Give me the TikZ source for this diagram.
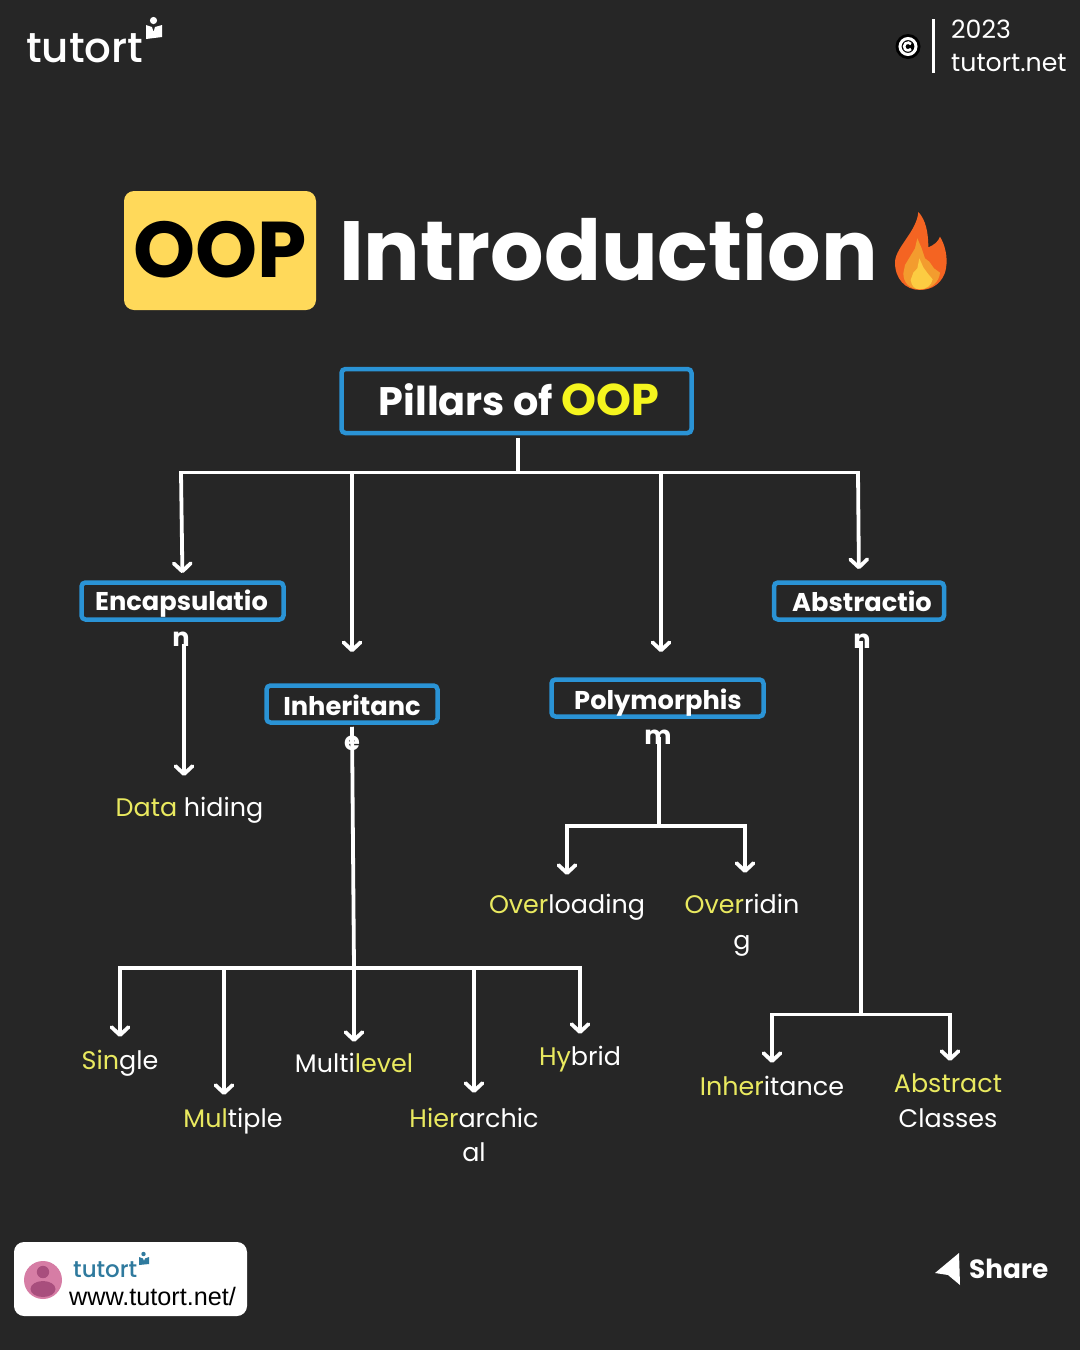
\documentclass[tikz,border=0pt]{standalone}
\usepackage{fontspec}
\setmainfont{Poppins}
\newfontfamily\arialf{Liberation Sans}
\newfontfamily\pmed{Poppins Medium}
\usetikzlibrary{arrows.meta}
\definecolor{bgc}{HTML}{262626}
\definecolor{boxb}{HTML}{2A93D5}
\definecolor{yel}{HTML}{E9E95F}
\definecolor{yelb}{HTML}{F5F51E}
\definecolor{titley}{HTML}{FFD95A}
\definecolor{logob}{HTML}{2F7A9E}
\newcommand{\yy}[1]{\textcolor{yel}{#1}}
\tikzset{
  conn/.style={draw=white,line width=3.8pt},
  arr/.style={conn,-{Straight Barb[round,length=8pt,width=17pt,line width=3.8pt]}},
  pillar/.style={draw=boxb,line width=4.5pt,rounded corners=4pt,text=white,inner sep=0pt,anchor=center},
  ptext/.style={text=white,font=\fontsize{25.7}{32}\selectfont\bfseries,inner sep=0pt,anchor=base},
  leaf/.style={text=white,font=\fontsize{25.4}{34.5}\selectfont,inner sep=0pt,align=center},
}
\begin{document}
\begin{tikzpicture}[x=1pt,y=-1pt]
\fill[bgc] (0,0) rectangle (1080,1350);
\useasboundingbox (0,0) rectangle (1080,1350);
% header
\node[text=white,font=\pmed\fontsize{42}{50}\selectfont,inner sep=0pt,anchor=base west] (logo) at (26,62) {tutort};
\fill[white] (153.5,20.5) circle (3.6);
\fill[white] (146,25) -- (152,27) -- (153.5,32) -- (155,27) -- (162,25) -- (162,37) -- (146,39) -- cycle;
\fill[black] (908,46.5) circle (12.5);
\draw[white,line width=3pt] (908,46.5) circle (8);
\draw[white,line width=2.6pt] (911,44) arc (-40:-320:3.9);
\draw[white,line width=3pt] (933.5,19) -- (933.5,73);
\node[text=white,font=\fontsize{25.2}{30}\selectfont,inner sep=0pt,anchor=base west] (yr) at (951,38) {2023};
\node[text=white,font=\fontsize{25.2}{30}\selectfont,inner sep=0pt,anchor=base west] (site) at (951,71) {tutort.net};
% title
\fill[titley,rounded corners=10pt] (124,191) rectangle (316,310);
\node[text=black,font=\fontsize{79}{90}\selectfont\bfseries,inner sep=0pt,anchor=base] (oop) at (220,277) {OOP};
\node[text=white,font=\fontsize{84}{90}\selectfont\bfseries,inner sep=0pt,anchor=base west] (intro) at (339,280) {Introduction};
\begin{scope}[shift={(860,190)},x=.3333pt,y=-.3333pt]
\fill[color={rgb,255:red,244;green,100;blue,34}] (175,66) .. controls (198,90) and (205,130) .. (205,172) .. controls (222,165) and (235,155) .. (240,140) .. controls (255,165) and (264,200) .. (258,235) .. controls (250,280) and (215,300) .. (180,300) .. controls (135,300) and (104,265) .. (105,215) .. controls (108,170) and (170,125) .. (175,66) -- cycle;
\fill[color={rgb,255:red,243;green,156;blue,46}] (172,145) -- (185,175) -- (195,205) -- (208,215) -- (222,235) -- (240,248) .. controls (238,275) and (215,298) .. (180,298) .. controls (150,298) and (130,280) .. (130,250) -- (135,225) -- (150,200) -- (165,175) -- cycle;
\fill[color={rgb,255:red,252;green,204;blue,66}] (178,205) -- (190,232) -- (203,250) -- (218,268) .. controls (215,285) and (200,298) .. (180,298) .. controls (165,298) and (155,290) .. (152,270) -- (160,248) -- (172,235) -- cycle;
\end{scope}
% root
\node[pillar,minimum width=350pt,minimum height=64pt] (pillars) at (516.5,401) {};
\node[text=white,inner sep=0pt,anchor=base] (pillarst) at (519,415) {\fontsize{39.8}{50}\selectfont\bfseries Pillars of \fontsize{44.5}{50}\selectfont\textcolor{yelb}{OOP}};
% pillars
\node[pillar,minimum width=202pt,minimum height=37pt] (enc) at (182.5,601) {};
\node[ptext] (enct) at (181.5,610) {Encapsulatio};
\node[ptext] (encw) at (181,646) {n};
\node[pillar,minimum width=171pt,minimum height=37pt] (inh) at (352,704) {};
\node[ptext] (inht) at (352,715) {Inheritanc};
\node[ptext] (inhw) at (352,750) {e};
\node[pillar,minimum width=212pt,minimum height=37pt] (poly) at (657.5,698) {};
\node[ptext] (polyt) at (658,709) {Polymorphis};
\node[ptext] (polyw) at (658,744) {m};
\node[pillar,minimum width=170pt,minimum height=37pt] (abs) at (859,601) {};
\node[ptext] (abst) at (862,611) {Abstractio};
\node[ptext] (absw) at (862,648) {n};
% leaves
\node[leaf] (dh) at (189.5,810) {\yy{Data} hiding};
\node[leaf] (sg) at (120,1063) {\yy{Sin}gle};
\node[leaf] (mu) at (233,1121) {\yy{Mul}tiple};
\node[leaf] (ml) at (354,1063) {Multi\yy{level}};
\node[leaf] (hi) at (474,1135) {\yy{Hier}archic\\al};
\node[leaf] (hy) at (580,1059) {\yy{Hy}brid};
\node[leaf] (ol) at (567,907) {\yy{Over}loading};
\node[leaf] (or) at (742,925) {\yy{Over}ridin\\[1.5pt]g};
\node[leaf] (ih) at (772,1086) {\yy{Inher}itance};
\node[leaf] (ac) at (948,1100.5) {\yy{Abstract}\\[.5pt]Classes};
% junctions
\coordinate (r0) at (518,472.5);
\coordinate (r1) at (181,472.5);
\coordinate (r2) at (352,472.5);
\coordinate (r3) at (661,472.5);
\coordinate (r4) at (858,472.5);
\coordinate (i0) at (354,968);
\coordinate (i1) at (120,968);
\coordinate (i2) at (224,968);
\coordinate (i4) at (474,968);
\coordinate (i5) at (580,968);
\coordinate (p0) at (659,826);
\coordinate (p1) at (567,826);
\coordinate (p2) at (745,826);
\coordinate (a0) at (861,1014.5);
\coordinate (a1) at (772,1014.5);
\coordinate (a2) at (950,1014.5);
\coordinate (e0) at (184,644);
\coordinate (e1) at (184,776);
% connectors
\draw[conn,shorten <=3pt] (pillars.south -| r0) -- (r0);
\draw[conn,line cap=rect] (r1) -- (r4);
\draw[arr,shorten >=7pt] (r1) -- (enc.north);
\draw[arr] (r2) -- ([yshift=31pt]inh.north);
\draw[arr] (r3) -- ([yshift=25pt]r3 |- poly.north);
\draw[arr,shorten >=11pt] (r4) -- (abs.north);
\draw[arr] (e0) -- (e1);
\draw[conn,shorten <=2pt] (inh.south) -- (i0);
\draw[conn,line cap=rect] (i1) -- (i5);
\draw[arr] (i1) -- (i1 |- 0,1037);
\draw[arr] (i2) -- (i2 |- 0,1095);
\draw[arr] (i0) -- (i0 |- 0,1042);
\draw[arr] (i4) -- (i4 |- 0,1093);
\draw[arr] (i5) -- (i5 |- 0,1034);
\draw[conn] (p0 |- polyw.center) -- (p0);
\draw[conn,line cap=rect] (p1) -- (p2);
\draw[arr] (p1) -- (p1 |- 0,875);
\draw[arr] (p2) -- (p2 |- 0,873);
\draw[conn] (a0 |- absw.center) -- (a0);
\draw[conn,line cap=rect] (a1) -- (a2);
\draw[arr] (a1) -- (a1 |- 0,1063);
\draw[arr] (a2) -- (a2 |- 0,1061);
% footer
\fill[white,rounded corners=10pt] (14,1242) rectangle (247,1316);
\fill[color={rgb,255:red,214;green,125;blue,165}] (43,1280) circle (19);
\fill[color={rgb,255:red,168;green,78;blue,125}] (43,1272) circle (6.2);
\begin{scope}
\clip (43,1280) circle (19);
\fill[color={rgb,255:red,168;green,78;blue,125}] (43,1289) ellipse (12.5 and 8);
\end{scope}
\node[text=logob,font=\pmed\fontsize{23}{30}\selectfont,inner sep=0pt,anchor=base west] (flogo) at (73,1277) {tutort};
\fill[logob] (143.5,1254) circle (2.2);
\fill[logob] (139,1257) -- (143,1258.5) -- (144,1261) -- (145,1258.5) -- (149,1257) -- (149,1264) -- (139,1265) -- cycle;
\node[text=black,font=\arialf\fontsize{25.2}{30}\selectfont,inner sep=0pt,anchor=base west] (url) at (69,1305) {www.tutort.net/};
\fill[white] (959,1253) -- (935,1273) -- (948,1275) -- (960,1285) -- cycle;
\node[text=white,font=\fontsize{26.3}{32}\selectfont\bfseries,inner sep=0pt,anchor=base west] (share) at (969,1278) {Share};
\end{tikzpicture}
\end{document}
